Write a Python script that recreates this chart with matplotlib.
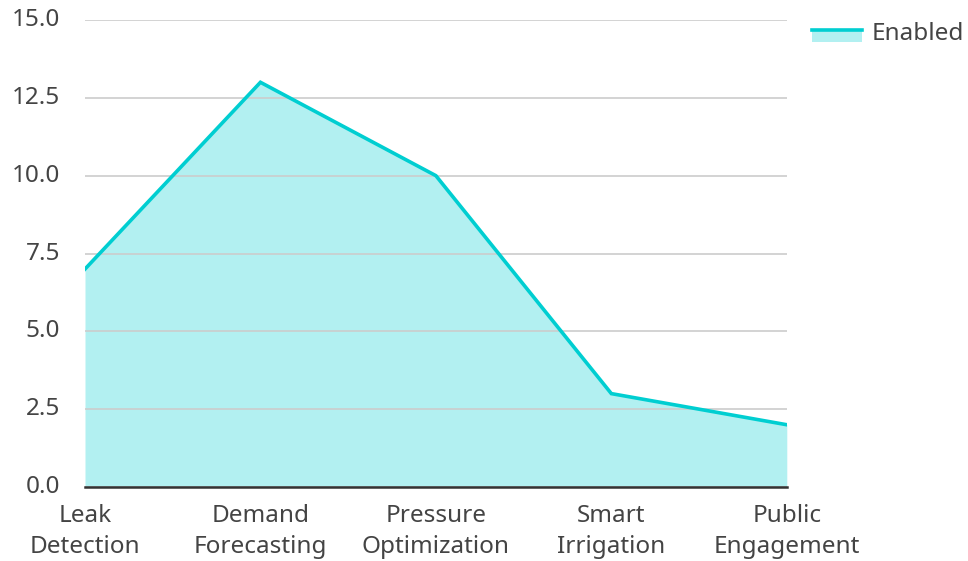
import numpy as np
import matplotlib.pyplot as plt
from matplotlib.patches import Rectangle
from matplotlib.lines import Line2D
from matplotlib.legend_handler import HandlerBase

plt.rcParams['font.family'] = ['Noto Sans', 'DejaVu Sans']

categories = ['Leak\nDetection', 'Demand\nForecasting', 'Pressure\nOptimization',
              'Smart\nIrrigation', 'Public\nEngagement']
enabled = [7, 13, 10, 3, 2]
yticks = [0.0, 2.5, 5.0, 7.5, 10.0, 12.5, 15.0]

line_color = '#00CED1'
text_color = '#444444'
fs = 17.5


class AreaHandler(HandlerBase):
    # legend key: filled box with the line along its top edge
    def create_artists(self, legend, orig_handle, xdescent, ydescent,
                       width, height, fontsize, trans):
        mid = height / 2 - ydescent
        top = mid + 1.0
        box = Rectangle((-xdescent, top - 8.5), width, 8.5, facecolor=line_color,
                        alpha=0.3, edgecolor='none', transform=trans)
        ln = Line2D([-xdescent, -xdescent + width], [top, top], color=line_color,
                    lw=2.6, transform=trans)
        return [box, ln]


fig = plt.figure(figsize=(9.68, 5.61), dpi=100)
ax = fig.add_axes([0.0878, 0.1319, 0.725, 0.8324])

x = np.arange(len(categories))
ax.fill_between(x, enabled, 0, color=line_color, alpha=0.3, lw=0, zorder=1)
ax.plot(x, enabled, color=line_color, lw=2.6, zorder=3, solid_joinstyle='miter')

ax.set_xlim(0, len(categories) - 1)
ax.set_ylim(0, 15)
ax.set_yticks(yticks)
ax.set_yticklabels([f'{v:.1f}' for v in yticks])
ax.set_xticks(x)
ax.set_xticklabels(categories, linespacing=1.38)
ax.yaxis.grid(True, color='#cccccc', lw=1.2, zorder=2)
ax.set_axisbelow(False)

for s in ['top', 'right', 'left']:
    ax.spines[s].set_visible(False)
ax.spines['bottom'].set_color('#333333')
ax.spines['bottom'].set_linewidth(1.8)
ax.spines['bottom'].set_zorder(4)

ax.tick_params(axis='both', length=0, labelsize=fs, labelcolor=text_color)
ax.tick_params(axis='y', pad=18)
ax.tick_params(axis='x', pad=12)
for lbl in ax.get_yticklabels():
    lbl.set_verticalalignment('center')

handle = Rectangle((0, 0), 1, 1)
fig.legend([handle], ['Enabled'], handler_map={Rectangle: AreaHandler()},
           loc='upper left', bbox_to_anchor=(0.839, 0.961), frameon=False,
           fontsize=fs, handlelength=2.06, handleheight=0.7, handletextpad=0.4,
           borderpad=0, borderaxespad=0, labelcolor=text_color)

fig.savefig('out.png', dpi=100)
